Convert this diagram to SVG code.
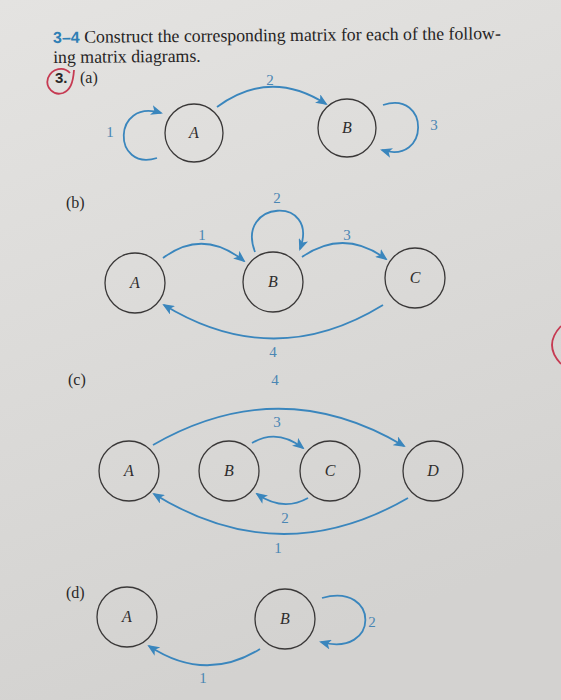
<svg xmlns="http://www.w3.org/2000/svg" width="561" height="700" viewBox="0 0 561 700">
<defs>
<linearGradient id="paper" x1="0" y1="0" x2="0.3" y2="1">
<stop offset="0" stop-color="#e4e3e1"/>
<stop offset="1" stop-color="#d3d2d0"/>
</linearGradient>
<marker id="ah" viewBox="0 0 12 10" refX="10" refY="5" markerWidth="12" markerHeight="10" markerUnits="userSpaceOnUse" orient="auto">
<path d="M0,0 L12,5 L0,10 L3,5 Z" fill="#3a86bd"/>
</marker>
<style>
.node circle{fill:none;stroke:#3a3838;stroke-width:1.3}
.node text{font-family:"Liberation Serif",serif;font-style:italic;font-size:16px;fill:#2f2d2d;text-anchor:middle}
.edge{fill:none;stroke:#3a86bd;stroke-width:1.8;marker-end:url(#ah)}
.lbl{font-family:"Liberation Serif",serif;font-size:15px;fill:#4a86b3;text-anchor:middle}
.hd{font-family:"Liberation Serif",serif;font-size:16px;fill:#2a2828}
.title{font-family:"Liberation Serif",serif;font-size:17.8px;fill:#262424}
</style>
</defs>
<rect width="561" height="700" fill="url(#paper)"/>

<g transform="rotate(-0.5 53 43)">
<text class="title" x="53" y="43"><tspan font-family="Liberation Sans, sans-serif" font-weight="bold" font-size="16" fill="#2f7fb5">3–4</tspan> Construct the corresponding matrix for each of the follow-</text>
<text class="title" x="53" y="63">ing matrix diagrams.</text>
</g>
<text x="55" y="83" font-family="Liberation Sans, sans-serif" font-weight="bold" font-size="15" fill="#2a2828">3.</text>
<text class="hd" x="80" y="83">(a)</text>
<path d="M70 73 C64 66 52 68 48 78 C45 88 54 96 63 93 C70 90 73 84 74 70" fill="none" stroke="#c63a52" stroke-width="1.8"/>
<path d="M561 326 Q543 345 561 364" fill="none" stroke="#c63a52" stroke-width="1.8"/>

<text class="hd" x="66" y="208">(b)</text>
<text class="hd" x="68" y="385">(c)</text>
<text class="hd" x="66" y="598">(d)</text>

<g id="connectors">
<path class="edge" d="M157 158 C112 172 112 98 161 113"/>
<path class="edge" d="M217 107 Q270 68 326 104"/>
<path class="edge" d="M383 105 C430 90 430 165 382 150"/>

<path class="edge" d="M163 258 Q203 228 244 261"/>
<path class="edge" d="M255 252 C235 200 320 195 300 249"/>
<path class="edge" d="M302 257 Q344 228 386 259"/>
<path class="edge" d="M383 305 Q274 372 164 305"/>

<path class="edge" d="M153 445 Q280 372 404 446"/>
<path class="edge" d="M252 443 Q277 428 303 448"/>
<path class="edge" d="M308 498 Q283 512 257 494"/>
<path class="edge" d="M408 498 Q280 572 154 494"/>

<path class="edge" d="M260 649 Q205 683 149 646"/>
<path class="edge" d="M322 598 C380 582 380 658 321 642"/>
</g>

<g id="labels">
<text class="lbl" x="110" y="137">1</text>
<text class="lbl" x="270" y="85">2</text>
<text class="lbl" x="434" y="130">3</text>
<text class="lbl" x="202" y="240">1</text>
<text class="lbl" x="277" y="203">2</text>
<text class="lbl" x="347" y="240">3</text>
<text class="lbl" x="273" y="357">4</text>
<text class="lbl" x="275" y="385">4</text>
<text class="lbl" x="277" y="427">3</text>
<text class="lbl" x="285" y="523">2</text>
<text class="lbl" x="278" y="553">1</text>
<text class="lbl" x="203" y="683">1</text>
<text class="lbl" x="372" y="627">2</text>
</g>

<g id="a-A" class="node"><circle cx="194" cy="133" r="29"/><text x="194" y="138">A</text></g>
<g id="a-B" class="node"><circle cx="347" cy="128" r="29"/><text x="347" y="133">B</text></g>

<g id="b-A" class="node"><circle cx="135" cy="283" r="30"/><text x="135" y="288">A</text></g>
<g id="b-B" class="node"><circle cx="273" cy="282" r="30"/><text x="273" y="287">B</text></g>
<g id="b-C" class="node"><circle cx="415" cy="278" r="30"/><text x="415" y="283">C</text></g>

<g id="c-A" class="node"><circle cx="129" cy="471" r="30"/><text x="129" y="476">A</text></g>
<g id="c-B" class="node"><circle cx="229" cy="471" r="30"/><text x="229" y="476">B</text></g>
<g id="c-C" class="node"><circle cx="330" cy="471" r="30"/><text x="330" y="476">C</text></g>
<g id="c-D" class="node"><circle cx="433" cy="471" r="30"/><text x="433" y="476">D</text></g>

<g id="d-A" class="node"><circle cx="127" cy="617" r="30"/><text x="127" y="622">A</text></g>
<g id="d-B" class="node"><circle cx="285" cy="619" r="30"/><text x="285" y="624">B</text></g>
</svg>
